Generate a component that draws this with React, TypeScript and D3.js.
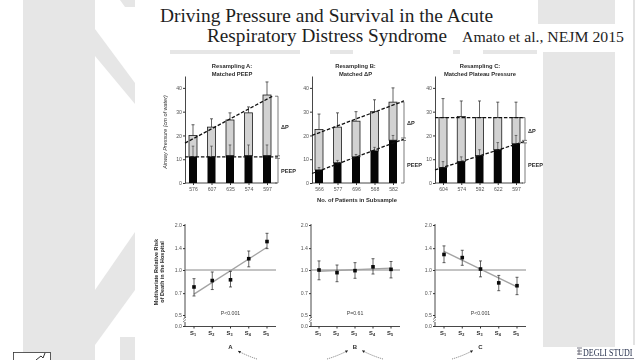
import { useEffect, useRef } from "react";
import * as d3 from "d3";

// ---- top row: airway pressure (cm of water) ----
const countsA = ["576", "607", "635", "574", "597"];
const peepA = [11, 11, 11.5, 11.5, 11.5];
const peepErrA = [15.5, 15.5, 16, 16, 16];
const totalA = [20, 23.5, 26.5, 29.5, 37];
const totalErrA = [24.5, 27, 29.5, 32, 42.5];

const countsB = ["566", "577", "696", "568", "582"];
const peepB = [5.5, 8.5, 11, 13.5, 18];
const peepErrB = [6.5, 9.5, 12, 15, 20];
const totalB = [22.5, 23.5, 26, 30, 34];
const totalErrB = [29, 29.5, 30, 35, 40];

const countsC = ["604", "574", "592", "622", "597"];
const peepC = [6.5, 9, 11.5, 14, 16.5];
const peepErrC = [9, 11, 14, 17, 20];
const totalC = [27.5, 28, 27.5, 27.5, 27.5];
const totalErrC = [35.5, 34.5, 34.5, 34, 34];

// dashed trend lines [start, end] in cm of water
const dashTopA = [16.8, 36.6];
const dashLowA = [11, 11];
const dashTopB = [20, 34.5];
const dashLowB = [4, 18.5];
const dashTopC = [27.5, 27.5];
const dashLowC = [5.5, 17.5];

const pressureTicks = [0, 10, 20, 30, 40];

// ---- bottom row: relative risk of death ----
const subsamples = ["1", "2", "3", "4", "5"];
const riskA = [0.77, 0.85, 0.86, 1.19, 1.55];
const riskLoA = [0.67, 0.74, 0.77, 1.05, 1.39];
const riskHiA = [0.875, 0.97, 0.98, 1.34, 1.76];
const fitA = [0.69, 1.42];

const riskB = [1.0, 0.96, 0.99, 1.05, 1.01];
const riskLoB = [0.86, 0.835, 0.88, 0.94, 0.885];
const riskHiB = [1.15, 1.08, 1.12, 1.19, 1.14];
const fitB = [0.98, 1.03];

const riskC = [1.27, 1.21, 1.015, 0.82, 0.785];
const riskLoC = [1.12, 1.075, 0.9, 0.727, 0.684];
const riskHiC = [1.45, 1.355, 1.15, 0.92, 0.894];
const fitC = [1.33, 0.77];

const riskTicks = [0.5, 0.7, 1.0, 1.4, 2.0];
const pLabels = ["P<0.001", "P=0.61", "P<0.001"];

const FIG_FONT = "'Liberation Sans', Arial, sans-serif";
const INK = "#2b2b2b";

const App = () => {
  const ref = useRef<SVGSVGElement>(null);

  useEffect(() => {
    if (!ref.current) return;
    const svg = d3.select(ref.current);
    svg.selectAll("*").remove();

    // ---- slide background ----
    const bg = svg.append("g");
    bg.append("rect").attr("width", 640).attr("height", 360).attr("fill", "#fff");
    const grey = "#e6e6e6";
    bg.append("rect").attr("x", 23).attr("y", 0).attr("width", 72).attr("height", 360).attr("fill", grey);
    const polys = [
      [[95, 29], [135, 83], [135, 104], [95, 56]],
      [[95, 290], [135, 232], [135, 290], [95, 345]],
      [[120, 0], [135, 0], [135, 7], [125, 7]],
      [[120, 337], [135, 337], [135, 360], [120, 360]],
    ];
    polys.forEach((p) =>
      bg.append("polygon").attr("points", p.map((q) => q.join(",")).join(" ")).attr("fill", grey)
    );
    [[170, 300], [330, 353], [453, 460], [483, 537]].forEach(([a, b]) =>
      bg.append("rect").attr("x", a).attr("y", 50).attr("width", b - a).attr("height", 4).attr("fill", grey)
    );
    bg.append("rect").attr("x", 538).attr("y", 0).attr("width", 77).attr("height", 24).attr("fill", grey);
    bg.append("rect").attr("x", 543).attr("y", 52).attr("width", 72).attr("height", 295).attr("fill", grey);
    bg.append("rect").attr("x", 633).attr("y", 0).attr("width", 2).attr("height", 345).attr("fill", "#e2e2e2");

    // ---- title ----
    const serif = "'Liberation Serif', 'Times New Roman', serif";
    svg.append("text").attr("x", 160).attr("y", 21.5).attr("font-family", serif).attr("font-size", 19)
      .attr("fill", "#1e1e1e").attr("textLength", 333).attr("lengthAdjust", "spacingAndGlyphs")
      .text("Driving Pressure and Survival in the Acute");
    svg.append("text").attr("x", 207).attr("y", 42).attr("font-family", serif).attr("font-size", 19)
      .attr("fill", "#1e1e1e").attr("textLength", 240).attr("lengthAdjust", "spacingAndGlyphs")
      .text("Respiratory Distress Syndrome");
    svg.append("text").attr("x", 462).attr("y", 42).attr("font-family", serif).attr("font-size", 15.5)
      .attr("fill", "#1e1e1e").attr("textLength", 162).attr("lengthAdjust", "spacingAndGlyphs")
      .text("Amato et al., NEJM 2015");

    const fig = svg.append("g").attr("font-family", FIG_FONT).attr("fill", INK).attr("opacity", 0.999);

    // ---- top panels ----
    const top = [
      { t1: "Resampling A:", t2: "Matched PEEP", counts: countsA, peep: peepA, peepErr: peepErrA, total: totalA, totalErr: totalErrA,
        ax: 185, x0: 193, x1: 267, end: 277, dTop: dashTopA, dLow: dashLowA, dTopEnd: 273, dLowEnd: 278,
        bx: 278, bTop: 36.5, bMid: 11, lx: 281, dpY: 127, peY: 171 },
      { t1: "Resampling B:", t2: "Matched \u0394P", counts: countsB, peep: peepB, peepErr: peepErrB, total: totalB, totalErr: totalErrB,
        ax: 312, x0: 319, x1: 393, end: 397, dTop: dashTopB, dLow: dashLowB, dTopEnd: 404, dLowEnd: 404,
        bx: 404, bTop: 34, bMid: 18.5, lx: 407, dpY: 123, peY: 165 },
      { t1: "Resampling C:", t2: "Matched Plateau Pressure", counts: countsC, peep: peepC, peepErr: peepErrC, total: totalC, totalErr: totalErrC,
        ax: 435, x0: 443, x1: 516, end: 523, dTop: dashTopC, dLow: dashLowC, dTopEnd: 525, dLowEnd: 525,
        bx: 525, bTop: 27.5, bMid: 17.5, lx: 528, dpY: 131, peY: 165 },
    ];
    const y = d3.scaleLinear().domain([0, 45]).range([183, 76]);
    const bw = 8;

    top.forEach((p) => {
      const g = fig.append("g");
      const x = d3.scalePoint<number>().domain(d3.range(5)).range([p.x0, p.x1]);
      const cx = (i: number) => x(i) as number;

      g.append("text").attr("x", (p.ax + p.end) / 2 + 1).attr("y", 68).attr("text-anchor", "middle")
        .attr("font-size", 5.8).attr("font-weight", "bold").attr("fill", INK).text(p.t1);
      g.append("text").attr("x", (p.ax + p.end) / 2 + 1).attr("y", 75.5).attr("text-anchor", "middle")
        .attr("font-size", 5.8).attr("font-weight", "bold").attr("fill", INK).text(p.t2);

      // y axis
      const ya = g.append("g").attr("transform", `translate(${p.ax},0)`)
        .call(d3.axisLeft(y).tickValues(pressureTicks).tickSize(2).tickSizeOuter(0).tickPadding(1));
      ya.select(".domain").attr("stroke", "#333").attr("stroke-width", 0.9);
      ya.selectAll("line").attr("stroke", "#333");
      ya.selectAll("text").attr("font-size", 5.2).attr("fill", "#555").attr("font-family", FIG_FONT);

      // x axis
      const xa = g.append("g").attr("transform", "translate(0,183)")
        .call(d3.axisBottom(x).tickFormat((i) => p.counts[i as number]).tickSize(2).tickPadding(2));
      xa.select(".domain").remove();
      xa.selectAll("line").attr("stroke", "#333");
      xa.selectAll("text").attr("font-size", 5.2).attr("fill", "#555").attr("font-family", FIG_FONT);
      g.append("line").attr("x1", p.ax).attr("x2", p.end).attr("y1", 183).attr("y2", 183)
        .attr("stroke", "#333").attr("stroke-width", 0.9);

      // error bars (total)
      p.total.forEach((v, i) => {
        g.append("line").attr("x1", cx(i)).attr("x2", cx(i)).attr("y1", y(v)).attr("y2", y(p.totalErr[i]))
          .attr("stroke", "#222").attr("stroke-width", 0.7);
        g.append("line").attr("x1", cx(i) - 1.5).attr("x2", cx(i) + 1.5).attr("y1", y(p.totalErr[i])).attr("y2", y(p.totalErr[i]))
          .attr("stroke", "#222").attr("stroke-width", 0.7);
      });
      // grey delta-P bars
      g.selectAll(".dp").data(p.total).enter().append("rect")
        .attr("x", (_, i) => cx(i) - bw / 2).attr("width", bw)
        .attr("y", (d) => y(d)).attr("height", (d, i) => y(p.peep[i]) - y(d))
        .attr("fill", "#d2d2d2").attr("stroke", "#1a1a1a").attr("stroke-width", 0.8);
      // PEEP error bars inside grey
      p.peep.forEach((v, i) => {
        g.append("line").attr("x1", cx(i)).attr("x2", cx(i)).attr("y1", y(v)).attr("y2", y(p.peepErr[i]))
          .attr("stroke", "#333").attr("stroke-width", 0.6);
        g.append("line").attr("x1", cx(i) - 1.3).attr("x2", cx(i) + 1.3).attr("y1", y(p.peepErr[i])).attr("y2", y(p.peepErr[i]))
          .attr("stroke", "#333").attr("stroke-width", 0.6);
      });
      // black PEEP bars
      g.selectAll(".pe").data(p.peep).enter().append("rect")
        .attr("x", (_, i) => cx(i) - bw / 2).attr("width", bw)
        .attr("y", (d) => y(d)).attr("height", (d) => y(0) - y(d)).attr("fill", "#050505");

      // dashed trend lines
      g.append("line").attr("x1", p.ax).attr("x2", p.dTopEnd).attr("y1", y(p.dTop[0])).attr("y2", y(p.dTop[1]))
        .attr("stroke", "#111").attr("stroke-width", 1.3).attr("stroke-dasharray", "3.5,1.8");
      g.append("line").attr("x1", p.ax).attr("x2", p.dLowEnd).attr("y1", y(p.dLow[0])).attr("y2", y(p.dLow[1]))
        .attr("stroke", "#111").attr("stroke-width", 1.3).attr("stroke-dasharray", "3.5,1.8");

      // brackets
      const yt = y(p.bTop), ym = y(p.bMid), y0 = y(0);
      g.append("path").attr("d", `M${p.bx - 3},${yt}H${p.bx}V${ym - 1}H${p.bx - 3}M${p.bx},${ym - 1}h2`)
        .attr("fill", "none").attr("stroke", "#444").attr("stroke-width", 0.7);
      g.append("path").attr("d", `M${p.bx - 3},${ym + 1.5}H${p.bx}V${y0}H${p.bx - 3}M${p.bx},${ym + 1.5}h2`)
        .attr("fill", "none").attr("stroke", "#444").attr("stroke-width", 0.7);
      g.append("text").attr("x", p.lx).attr("y", p.dpY + 2).attr("font-size", 5.6).attr("font-weight", "bold")
        .attr("fill", INK).text("\u0394P");
      g.append("text").attr("x", p.lx).attr("y", p.peY + 2).attr("font-size", 5.6).attr("font-weight", "bold")
        .attr("fill", INK).text("PEEP");
    });

    fig.append("text").attr("transform", "translate(167,132) rotate(-90)").attr("text-anchor", "middle")
      .attr("font-size", 5.5).attr("font-style", "italic").attr("fill", INK).text("Airway Pressure (cm of water)");
    fig.append("text").attr("x", 357).attr("y", 201.5).attr("text-anchor", "middle")
      .attr("font-size", 5.8).attr("font-weight", "bold").attr("fill", INK).text("No. of Patients in Subsample");

    // ---- bottom panels ----
    const bottom = [
      { est: riskA, lo: riskLoA, hi: riskHiA, fit: fitA, ax: 185, x0: 194, x1: 267, end: 276, letter: "A" },
      { est: riskB, lo: riskLoB, hi: riskHiB, fit: fitB, ax: 311, x0: 319, x1: 391, end: 400, letter: "B" },
      { est: riskC, lo: riskLoC, hi: riskHiC, fit: fitC, ax: 435, x0: 444, x1: 517, end: 526, letter: "C" },
    ];
    const yb = d3.scaleLog().domain([0.5, 2]).range([315, 225]);
    const yZero = 326.5;

    bottom.forEach((p, k) => {
      const g = fig.append("g");
      const x = d3.scalePoint<number>().domain(d3.range(5)).range([p.x0, p.x1]);
      const cx = (i: number) => x(i) as number;

      const ya = g.append("g").attr("transform", `translate(${p.ax},0)`)
        .call(d3.axisLeft(yb).tickValues(riskTicks).tickFormat(d3.format(".1f")).tickSize(2).tickSizeOuter(0).tickPadding(1));
      ya.select(".domain").remove();
      ya.selectAll("line").attr("stroke", "#333");
      ya.selectAll("text").attr("font-size", 5.2).attr("fill", "#555").attr("font-family", FIG_FONT);
      // axis line with break
      g.append("path").attr("d", `M${p.ax},224V318M${p.ax},322V${yZero}`).attr("stroke", "#333").attr("stroke-width", 0.9);
      g.append("path").attr("d", `M${p.ax - 2},319.5l3,-2.5M${p.ax - 2},322l3,-2.5`).attr("stroke", "#333").attr("stroke-width", 0.6);
      g.append("line").attr("x1", p.ax - 2).attr("x2", p.ax).attr("y1", yZero).attr("y2", yZero).attr("stroke", "#333");
      g.append("text").attr("x", p.ax - 3).attr("y", yZero).attr("dy", "0.32em").attr("text-anchor", "end")
        .attr("font-size", 5.2).attr("fill", "#555").text("0.0");

      // x axis
      g.append("line").attr("x1", p.ax).attr("x2", p.end).attr("y1", yZero).attr("y2", yZero)
        .attr("stroke", "#333").attr("stroke-width", 0.9);
      subsamples.forEach((s, i) => {
        g.append("line").attr("x1", cx(i)).attr("x2", cx(i)).attr("y1", yZero).attr("y2", yZero + 2).attr("stroke", "#333");
        const t = g.append("text").attr("x", cx(i) - 1).attr("y", 334.5).attr("text-anchor", "middle")
          .attr("font-size", 5.8).attr("font-weight", "bold").attr("fill", INK).text("S");
        t.append("tspan").attr("dy", 1.4).attr("font-size", 3.8).text(s);
      });

      // reference line and fit
      g.append("line").attr("x1", p.ax).attr("x2", p.end).attr("y1", yb(1)).attr("y2", yb(1))
        .attr("stroke", "#7a7a7a").attr("stroke-width", 0.9);
      g.append("line").attr("x1", cx(0)).attr("x2", cx(4)).attr("y1", yb(p.fit[0])).attr("y2", yb(p.fit[1]))
        .attr("stroke", "#a3a3a3").attr("stroke-width", 1.4);

      // error bars + points
      p.est.forEach((v, i) => {
        const c = cx(i);
        g.append("path").attr("d",
          `M${c},${yb(p.lo[i])}V${yb(p.hi[i])}M${c - 1.5},${yb(p.lo[i])}h3M${c - 1.5},${yb(p.hi[i])}h3`)
          .attr("stroke", "#222").attr("stroke-width", 0.7).attr("fill", "none");
        g.append("rect").attr("x", c - 1.8).attr("y", yb(v) - 1.8).attr("width", 3.6).attr("height", 3.6).attr("fill", "#0a0a0a");
      });

      g.append("text").attr("x", (p.x0 + p.x1) / 2).attr("y", 315).attr("text-anchor", "middle")
        .attr("font-size", 5.2).attr("fill", "#444").text(pLabels[k]);
      g.append("text").attr("x", (p.x0 + p.x1) / 2).attr("y", 349).attr("text-anchor", "middle")
        .attr("font-size", 6).attr("font-weight", "bold").attr("fill", INK).text(p.letter);
    });

    fig.append("text").attr("transform", "translate(157.5,272) rotate(-90)").attr("text-anchor", "middle")
      .attr("font-size", 5.5).attr("font-weight", "bold").attr("fill", INK).text("Multivariate Relative Risk");
    fig.append("text").attr("transform", "translate(163.5,272) rotate(-90)").attr("text-anchor", "middle")
      .attr("font-size", 5.5).attr("font-weight", "bold").attr("fill", INK).text("of Death in the Hospital");

    // dotted arrows toward A, B, C
    const arrows = [[257, 359, 238, 351], [327, 359, 348, 350.5], [383, 359, 362, 350.5], [452, 359, 473, 350.5]];
    arrows.forEach(([x1, y1, x2, y2]) => {
      const mx = (x1 + x2) / 2, my = Math.max(y1, y2) - 3;
      fig.append("path").attr("d", `M${x1},${y1}Q${mx},${my} ${x2},${y2}`).attr("fill", "none")
        .attr("stroke", "#333").attr("stroke-width", 0.6).attr("stroke-dasharray", "1.2,1");
      const a = Math.atan2(y2 - my, x2 - mx);
      const hx = (d: number) => x2 - 3 * Math.cos(a + d), hy = (d: number) => y2 - 3 * Math.sin(a + d);
      fig.append("path").attr("d", `M${x2},${y2}L${hx(0.45)},${hy(0.45)}L${hx(-0.45)},${hy(-0.45)}Z`).attr("fill", "#222");
    });

    // footer bits
    svg.append("rect").attr("x", 13.5).attr("y", 352.5).attr("width", 37).attr("height", 10)
      .attr("fill", "#fff").attr("stroke", "#333").attr("stroke-width", 0.8);
    svg.append("path").attr("d", "M36,360l5,-4l2,2l2,-5").attr("fill", "none").attr("stroke", "#333").attr("stroke-width", 1);
    svg.append("path").attr("d", "M577,348h5M577,351h5M577,354h5M579,349v6").attr("stroke", "#556").attr("stroke-width", 0.8);
    svg.append("text").attr("transform", "translate(583,355.5) scale(1,1.3)").attr("font-family", serif)
      .attr("font-size", 8).attr("fill", "#2a3450").text("DEGLI STUDI");
    svg.append("line").attr("x1", 577).attr("x2", 634).attr("y1", 358.5).attr("y2", 358.5).attr("stroke", "#667").attr("stroke-width", 0.8);
  }, []);

  return (
    <svg ref={ref} width={640} height={360} style={{ position: "absolute", left: 0, top: 0 }} />
  );
};

export default App;
